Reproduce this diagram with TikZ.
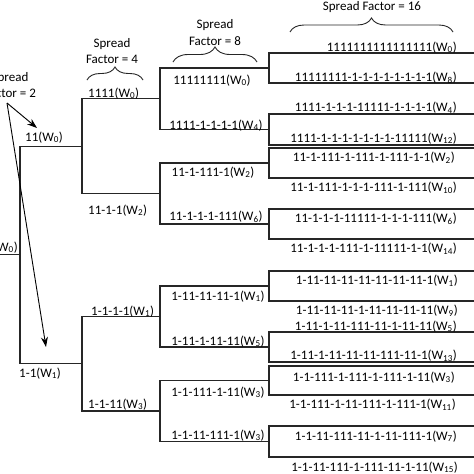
\documentclass[tikz,border=0pt]{standalone}
\usepackage{fontspec}
\setmainfont{Carlito}
\usetikzlibrary{arrows.meta,decorations.pathreplacing,calc}
\newcommand{\Wsub}[1]{(W\textsubscript{#1})}
\begin{document}
\begin{tikzpicture}[x=1pt,y=-1pt,
  wire/.style={line width=1.1pt, draw=black!85},
  lbl/.style={font=\fontsize{13}{16}\selectfont, inner sep=0pt, text=black},
  ann/.style={font=\fontsize{13}{16.5}\selectfont, align=center, inner sep=0pt, text=black},
  brc/.style={decorate, decoration={brace, amplitude=#1}, line width=0.9pt, draw=black!85},
  arr/.style={line width=0.9pt, draw=black, -{Stealth[length=10pt,width=7pt]}},
]
\useasboundingbox (0,0) rectangle (474,474);
\clip (0,0) rectangle (474,474);
\fill[white] (0,0) rectangle (474,474);

% column positions
\coordinate (x0) at (0,0);
\coordinate (x2) at (20,0);
\coordinate (x4) at (82,0);
\coordinate (x8) at (160,0);

% spread factor 16 brackets
\foreach \i/\t/\b in {0/53/83,1/114/145,2/148/178,3/209/239,4/271/301,5/332/362,6/366/395,7/426/457}{
  \coordinate (h\i t) at (269,\t);
  \coordinate (h\i b) at (269,\b);
  \coordinate (r\i t) at (474,\t);
  \coordinate (r\i b) at (474,\b);
  \coordinate (h\i m) at ($(h\i t)!0.5!(h\i b)$);
  \draw[wire] (r\i t) -- (h\i t) -- (h\i b) -- (r\i b);
}
% spread factor 8 brackets
\foreach \k/\a/\c in {0/0/1,1/2/3,2/4/5,3/6/7}{
  \coordinate (s\k t) at (x8 |- h\a m);
  \coordinate (s\k b) at (x8 |- h\c m);
  \coordinate (s\k m) at ($(s\k t)!0.5!(s\k b)$);
  \draw[wire] (h\a m) -- (s\k t) -- (s\k b) -- (h\c m);
}
% spread factor 4 brackets
\foreach \k/\a/\c in {0/0/1,1/2/3}{
  \coordinate (f\k t) at (x4 |- s\a m);
  \coordinate (f\k b) at (x4 |- s\c m);
  \coordinate (f\k m) at ($(f\k t)!0.5!(f\k b)$);
  \draw[wire] (s\a m) -- (f\k t) -- (f\k b) -- (s\c m);
}
% spread factor 2 bracket
\coordinate (ut) at (x2 |- f0m);
\coordinate (ub) at (x2 |- f1m);
\coordinate (um) at ($(ut)!0.5!(ub)$);
\draw[wire] (f0m) -- (ut) -- (ub) -- (f1m);
\coordinate (rootL) at (x0 |- um);
\draw[wire] (rootL) -- (um);

% root label
\node[lbl, anchor=base east] (lroot) at (18,251) {1\Wsub{0}};

% SF2 labels
\node[lbl, anchor=base west] (l2a) at (25,141) {11\Wsub{0}};
\node[lbl, anchor=base west] (l2b) at (19,377) {1-1\Wsub{1}};

% SF4 labels
\node[lbl, anchor=base west] (l4a) at (88,97) {1111\Wsub{0}};
\node[lbl, anchor=base west] (l4b) at (88,214) {11-1-1\Wsub{2}};
\node[lbl, anchor=base west] (l4c) at (91,315) {1-1-1-1\Wsub{1}};
\node[lbl, anchor=base west] (l4d) at (88,408) {1-1-11\Wsub{3}};

% SF8 labels
\node[lbl, anchor=base] (l8a) at (212,84) {11111111\Wsub{0}};
\node[lbl, anchor=base] (l8b) at (216,129) {1111-1-1-1-1\Wsub{4}};
\node[lbl, anchor=base] (l8c) at (213,176) {11-1-111-1\Wsub{2}};
\node[lbl, anchor=base] (l8d) at (216,220) {11-1-1-1-111\Wsub{6}};
\node[lbl, anchor=base] (l8e) at (218,300) {1-11-11-11-1\Wsub{1}};
\node[lbl, anchor=base] (l8f) at (218,345) {1-11-1-11-11\Wsub{5}};
\node[lbl, anchor=base] (l8g) at (218,396) {1-1-111-1-11\Wsub{3}};
\node[lbl, anchor=base] (l8h) at (218,439) {1-1-11-111-1\Wsub{3}};

% SF16 labels
\node[lbl, anchor=base east] (m0) at (457,51) {1111111111111111\Wsub{0}};
\node[lbl, anchor=base east] (m8) at (457,81) {11111111-1-1-1-1-1-1-1-1\Wsub{8}};
\node[lbl, anchor=base east] (m4) at (457,111.5) {1111-1-1-1-11111-1-1-1-1\Wsub{4}};
\node[lbl, anchor=base east] (m12) at (457,142) {1111-1-1-1-1-1-1-1-11111\Wsub{12}};
\node[lbl, anchor=base east] (m2) at (455,161.5) {11-1-111-1-111-1-111-1-1\Wsub{2}};
\node[lbl, anchor=base east] (m10) at (457,191.5) {11-1-111-1-1-1-111-1-111\Wsub{10}};
\node[lbl, anchor=base east] (m6) at (457,222.5) {11-1-1-1-11111-1-1-1-111\Wsub{6}};
\node[lbl, anchor=base east] (m14) at (457,252.5) {11-1-1-1-111-1-11111-1-1\Wsub{14}};
\node[lbl, anchor=base east] (m1) at (458,284.5) {1-11-11-11-11-11-11-11-1\Wsub{1}};
\node[lbl, anchor=base east] (m9) at (458,314.5) {1-11-11-11-1-11-11-11-11\Wsub{9}};
\node[lbl, anchor=base east] (m5) at (457,330) {1-11-1-11-111-11-1-11-11\Wsub{5}};
\node[lbl, anchor=base east] (m13) at (457,359.5) {1-11-1-11-11-11-111-11-1\Wsub{13}};
\node[lbl, anchor=base east] (m3) at (455,381) {1-1-111-1-111-1-111-1-11\Wsub{3}};
\node[lbl, anchor=base east] (m11) at (456,408.5) {1-1-111-1-11-111-1-111-1\Wsub{11}};
\node[lbl, anchor=base east] (m7) at (457,440) {1-1-11-111-11-1-11-111-1\Wsub{7}};
\node[lbl, anchor=base east] (m15) at (458,471) {1-1-11-111-1-111-11-1-11\Wsub{15}};

% spread factor annotations
\node[ann] (sf2) at (10,85) {Spread\\Factor = 2};
\node[ann] (sf4) at (112,51) {Spread\\Factor = 4};
\node[ann] (sf8) at (215,32.5) {Spread\\Factor = 8};
\node[ann] (sf16) at (372,7.5) {Spread Factor = 16};

% braces
\coordinate (b4l) at (87,80);  \coordinate (b4r) at (143,80);
\coordinate (b8l) at (173,62); \coordinate (b8r) at (257,62);
\coordinate (b16l) at (290,32); \coordinate (b16r) at (453,32);
\draw[brc=13] (b4l) -- (b4r);
\draw[brc=15] (b8l) -- (b8r);
\draw[brc=14] (b16l) -- (b16r);

% arrows
\coordinate (a0) at (7,103);
\coordinate (a1) at (37,128);
\coordinate (a2) at (46,347);
\draw[arr] (a0) -- (a1);
\draw[arr] (a0) -- (a2);
\end{tikzpicture}
\end{document}
